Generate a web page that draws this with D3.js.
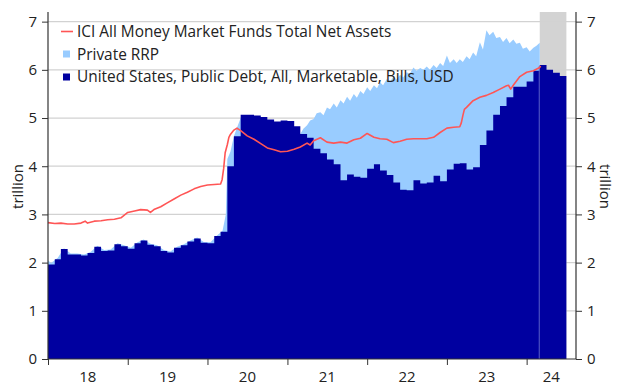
<!DOCTYPE html>
<html><head><meta charset="utf-8">
<script src="https://cdn.jsdelivr.net/npm/d3@7"></script>
<style>
body{margin:0;background:#fff}
svg{display:block}
text{font-family:"Open Sans","Noto Sans",sans-serif;fill:#222}
</style>
</head><body>
<svg id="c" width="624" height="392"></svg>
<script>
// ---- DATA (trillion USD) ----
const billStartMonth = "2018-01-01";
const billValues = [
  1.96,2.07,2.28,2.17,2.17,2.15,2.20,2.33,2.24,2.25,2.38,2.34,
  2.29,2.40,2.46,2.37,2.34,2.24,2.21,2.31,2.36,2.44,2.50,2.41,
  2.40,2.55,2.64,4.00,4.62,5.07,5.07,5.05,5.02,4.97,4.93,4.95,
  4.94,4.83,4.67,4.59,4.36,4.27,4.14,4.04,3.71,3.83,3.78,3.76,
  3.95,4.04,3.91,3.82,3.66,3.51,3.50,3.71,3.64,3.66,3.80,3.69,
  3.93,4.05,4.06,3.93,3.98,4.44,4.74,5.07,5.25,5.43,5.65,5.65,
  5.76,5.98,6.10,6.00,5.94,5.87
];
// Private RRP stacked on top of bills (top edge of the light-blue area)
const rrpDates = [
  "2018-01-01","2018-01-15","2018-02-15","2018-03-15","2018-04-15","2018-05-15","2018-06-15","2018-07-15","2018-08-15","2018-09-15","2018-10-15","2018-11-15","2018-12-15",
  "2019-01-15","2019-02-15","2019-03-15","2019-04-15","2019-05-15","2019-06-15","2019-07-15","2019-08-15","2019-09-15","2019-10-15","2019-11-15","2019-12-15",
  "2020-01-15","2020-02-15","2020-03-10","2020-03-25","2020-04-01","2020-04-15","2020-05-01","2020-05-15","2020-06-01","2020-07-15","2020-09-15","2020-11-15",
  "2021-01-15","2021-02-15","2021-03-01","2021-03-15","2021-04-01","2021-04-15","2021-05-01","2021-05-15","2021-06-01","2021-06-15","2021-07-01","2021-07-15",
  "2021-08-01","2021-08-15","2021-09-01","2021-09-15","2021-10-01","2021-10-15","2021-11-01","2021-11-15","2021-12-01","2021-12-15",
  "2022-01-01","2022-01-15","2022-02-01","2022-02-15","2022-03-01","2022-03-15","2022-04-01","2022-04-15","2022-05-01","2022-05-15","2022-06-01","2022-06-15",
  "2022-07-01","2022-07-15","2022-08-01","2022-08-15","2022-09-01","2022-09-15","2022-10-01","2022-10-15","2022-11-01","2022-11-15","2022-12-01","2022-12-15",
  "2023-01-01","2023-01-15","2023-02-01","2023-02-15","2023-03-01","2023-03-15","2023-04-01","2023-04-15","2023-05-01","2023-05-15","2023-06-01","2023-06-15",
  "2023-07-01","2023-07-15","2023-08-01","2023-08-15","2023-09-01","2023-09-15","2023-10-01","2023-10-15","2023-11-01","2023-11-15","2023-12-01","2023-12-15",
  "2024-01-01","2024-01-15","2024-02-01","2024-02-15","2024-03-01"
];
const rrpTopValues = [
  2.05,1.99,2.10,2.30,2.19,2.19,2.17,2.22,2.35,2.26,2.27,2.40,2.36,
  2.31,2.42,2.48,2.39,2.36,2.26,2.23,2.33,2.38,2.46,2.52,2.43,
  2.42,2.57,2.66,3.00,4.15,4.30,4.62,4.80,5.00,5.00,4.95,4.88,
  4.85,4.78,4.67,4.78,4.85,4.95,4.98,5.10,5.12,5.06,5.22,5.18,
  5.30,5.22,5.37,5.30,5.44,5.36,5.50,5.42,5.56,5.50,
  5.64,5.56,5.68,5.62,5.74,5.68,5.81,5.74,5.86,5.80,5.90,5.84,
  5.95,5.92,6.05,5.98,6.04,6.00,6.07,6.00,6.10,6.04,6.14,6.08,
  6.30,6.14,6.22,6.14,6.22,6.16,6.28,6.22,6.36,6.28,6.57,6.42,
  6.82,6.72,6.79,6.66,6.68,6.58,6.66,6.55,6.63,6.54,6.56,6.44,
  6.47,6.38,6.46,6.50,6.56
];
// ICI All Money Market Funds Total Net Assets
const iciDates = [
  "2018-01-01","2018-02-01","2018-03-01","2018-04-01","2018-05-01","2018-06-01","2018-06-20","2018-07-01","2018-08-01","2018-09-01","2018-10-01","2018-11-01","2018-12-01","2018-12-15",
  "2019-01-01","2019-02-01","2019-03-01","2019-04-01","2019-04-15","2019-05-01","2019-06-01","2019-07-01","2019-08-01","2019-09-01","2019-10-01","2019-11-01","2019-12-01",
  "2020-01-01","2020-02-01","2020-03-01","2020-03-08","2020-03-15","2020-03-22","2020-04-01","2020-04-08","2020-04-15","2020-05-01","2020-05-15","2020-06-01","2020-07-01","2020-08-01","2020-09-01","2020-10-01","2020-11-01","2020-12-01",
  "2021-01-01","2021-02-01","2021-03-01","2021-04-01","2021-04-15","2021-05-01","2021-06-01","2021-07-01","2021-08-01","2021-09-01","2021-10-01","2021-11-01","2021-12-01",
  "2022-01-01","2022-02-01","2022-03-01","2022-04-01","2022-05-01","2022-06-01","2022-07-01","2022-08-01","2022-09-01","2022-10-01","2022-11-01","2022-12-01",
  "2023-01-01","2023-02-01","2023-03-01","2023-03-08","2023-03-15","2023-03-22","2023-04-01","2023-05-01","2023-06-01","2023-07-01","2023-08-01","2023-09-01","2023-10-01","2023-10-10","2023-10-20","2023-11-01","2023-12-01",
  "2024-01-01","2024-02-01","2024-03-01","2024-03-05"
];
const iciValues = [
  2.83,2.81,2.82,2.80,2.80,2.82,2.86,2.82,2.86,2.87,2.89,2.90,2.93,2.98,
  3.04,3.07,3.10,3.09,3.04,3.10,3.16,3.24,3.32,3.40,3.46,3.53,3.58,
  3.61,3.62,3.63,3.72,3.95,4.28,4.45,4.60,4.66,4.75,4.79,4.74,4.63,4.56,4.47,4.38,4.34,4.30,
  4.31,4.35,4.40,4.48,4.44,4.53,4.59,4.50,4.48,4.50,4.48,4.55,4.58,
  4.68,4.60,4.57,4.56,4.49,4.52,4.56,4.57,4.57,4.57,4.60,4.70,
  4.79,4.81,4.82,4.90,5.05,5.18,5.22,5.36,5.43,5.47,5.53,5.60,5.67,5.68,5.60,5.68,5.86,
  5.95,5.98,6.05,6.08
];
const yearTicks = ["2018","2019","2020","2021","2022","2023","2024"];
const yearLabels = ["18","19","20","21","22","23","24"];
const yTicks = [0,1,2,3,4,5,6,7];
const legendLabels = [
  "ICI All Money Market Funds Total Net Assets",
  "Private RRP",
  "United States, Public Debt, All, Marketable, Bills, USD"
];
const shadeStart = "2024-03-01", shadeEnd = "2024-07-01";
const axisEnd = "2024-08-14";
const yUnit = "trillion";

// ---- COLOURS ----
const cBill = "#0000a0", cRrp = "#99ccff", cIci = "#ff5555", cShade = "#d3d3d3", cGrid = "#d2d2d2", cAxis = "#333";

// ---- CHART ----
const parse = d3.utcParse("%Y-%m-%d");
const svg = d3.select("#c");
const L = 48, R = 576, T = 12, B = 359;
const x = d3.scaleUtc().domain([parse(billStartMonth), parse(axisEnd)]).range([L, R]);
const y = d3.scaleLinear().domain([0, 7.2]).range([B, T]);

const months = billValues.map((v, i) => d3.utcMonth.offset(parse(billStartMonth), i));
const bills = billValues.map((v, i) => ({d: months[i], v}));
const billsStep = bills.concat([{d: d3.utcMonth.offset(months[months.length - 1], 1), v: billValues[billValues.length - 1]}]);
const rrp = rrpDates.map((d, i) => ({d: parse(d), v: rrpTopValues[i]}));
const ici = iciDates.map((d, i) => ({d: parse(d), v: iciValues[i]}));

// shade
svg.append("rect").attr("x", x(parse(shadeStart))).attr("y", T)
  .attr("width", x(parse(shadeEnd)) - x(parse(shadeStart))).attr("height", B - T).attr("fill", cShade);

// grid
svg.append("g").selectAll("line").data(yTicks.filter(t => t > 0)).join("line")
  .attr("x1", L).attr("x2", R).attr("y1", d => y(d)).attr("y2", d => y(d))
  .attr("stroke", cGrid).attr("stroke-width", 1.2);

// light-blue area
svg.append("path").datum(rrp)
  .attr("d", d3.area().x(d => x(d.d)).y0(y(0)).y1(d => y(d.v)))
  .attr("fill", cRrp);

// bills as monthly step bars
svg.append("path").datum(billsStep)
  .attr("d", d3.area().curve(d3.curveStepAfter).x(d => x(d.d)).y0(y(0)).y1(d => y(d.v)))
  .attr("fill", cBill);

// seam line at shade start
svg.append("line").attr("x1", x(parse(shadeStart)) - 0.5).attr("x2", x(parse(shadeStart)) - 0.5)
  .attr("y1", y(bills.find(b => +b.d === +parse(shadeStart)).v) + 1).attr("y2", B)
  .attr("stroke", "#5a60c8").attr("stroke-width", 1);

// ICI line
svg.append("path").datum(ici)
  .attr("d", d3.line().x(d => x(d.d)).y(d => y(d.v)))
  .attr("fill", "none").attr("stroke", cIci).attr("stroke-width", 1.6).attr("stroke-linejoin", "round");

// axes
const yl = d3.axisLeft(y).tickValues(yTicks).tickSize(6).tickPadding(5).tickFormat(d3.format("d"));
const yr = d3.axisRight(y).tickValues(yTicks).tickSize(6).tickPadding(5).tickFormat(d3.format("d"));
function styleAxis(g) {
  g.select(".domain").remove();
  g.selectAll(".tick line").attr("stroke", cAxis);
  g.selectAll("text").attr("font-size", 15).attr("fill", "#222").style("font-family", '"Open Sans","Noto Sans",sans-serif');
}
svg.append("g").attr("transform", `translate(${L},0)`).call(yl).call(styleAxis);
svg.append("g").attr("transform", `translate(${R},0)`).call(yr).call(styleAxis);
svg.append("line").attr("x1", L).attr("x2", L).attr("y1", T).attr("y2", B).attr("stroke", cAxis).attr("stroke-width", 1.2);
svg.append("line").attr("x1", R).attr("x2", R).attr("y1", T).attr("y2", B).attr("stroke", cAxis).attr("stroke-width", 1.2);

// x axis
const yearDates = yearTicks.map(t => parse(t + "-01-01"));
const xa = d3.axisBottom(x).tickValues(yearDates).tickSize(6).tickFormat("");
svg.append("g").attr("transform", `translate(0,${B})`).call(xa).call(g => {
  g.select(".domain").remove();
  g.selectAll(".tick line").attr("stroke", cAxis);
});
svg.append("line").attr("x1", L).attr("x2", R).attr("y1", B).attr("y2", B).attr("stroke", cAxis).attr("stroke-width", 1.2);
svg.append("g").selectAll("text").data(yearTicks).join("text")
  .attr("x", (d, i) => {
    const a = x(yearDates[i]);
    const b = i < yearTicks.length - 1 ? x(yearDates[i + 1]) : R;
    return (a + b) / 2;
  })
  .attr("y", 382).attr("text-anchor", "middle").attr("font-size", 15)
  .text((d, i) => yearLabels[i]);

// unit titles
svg.append("text").attr("transform", `translate(23,${(T + B) / 2 + 1}) rotate(-90)`)
  .attr("text-anchor", "middle").attr("font-size", 15).text(yUnit);
svg.append("text").attr("transform", `translate(600,${(T + B) / 2 + 1}) rotate(90)`)
  .attr("text-anchor", "middle").attr("font-size", 15).text(yUnit);

// legend
const lg = svg.append("g");
lg.append("line").attr("x1", 61).attr("x2", 73).attr("y1", 31.5).attr("y2", 31.5).attr("stroke", cIci).attr("stroke-width", 1.6);
lg.append("rect").attr("x", 63).attr("y", 50.5).attr("width", 7).attr("height", 7).attr("fill", cRrp);
lg.append("rect").attr("x", 63).attr("y", 73.5).attr("width", 7).attr("height", 7).attr("fill", cBill);
lg.selectAll("text").data(legendLabels).join("text")
  .attr("x", 77).attr("y", (d, i) => 32 + i * 22.5).attr("dy", "0.35em").attr("font-size", 15.4).text(d => d);
</script>
</body></html>
